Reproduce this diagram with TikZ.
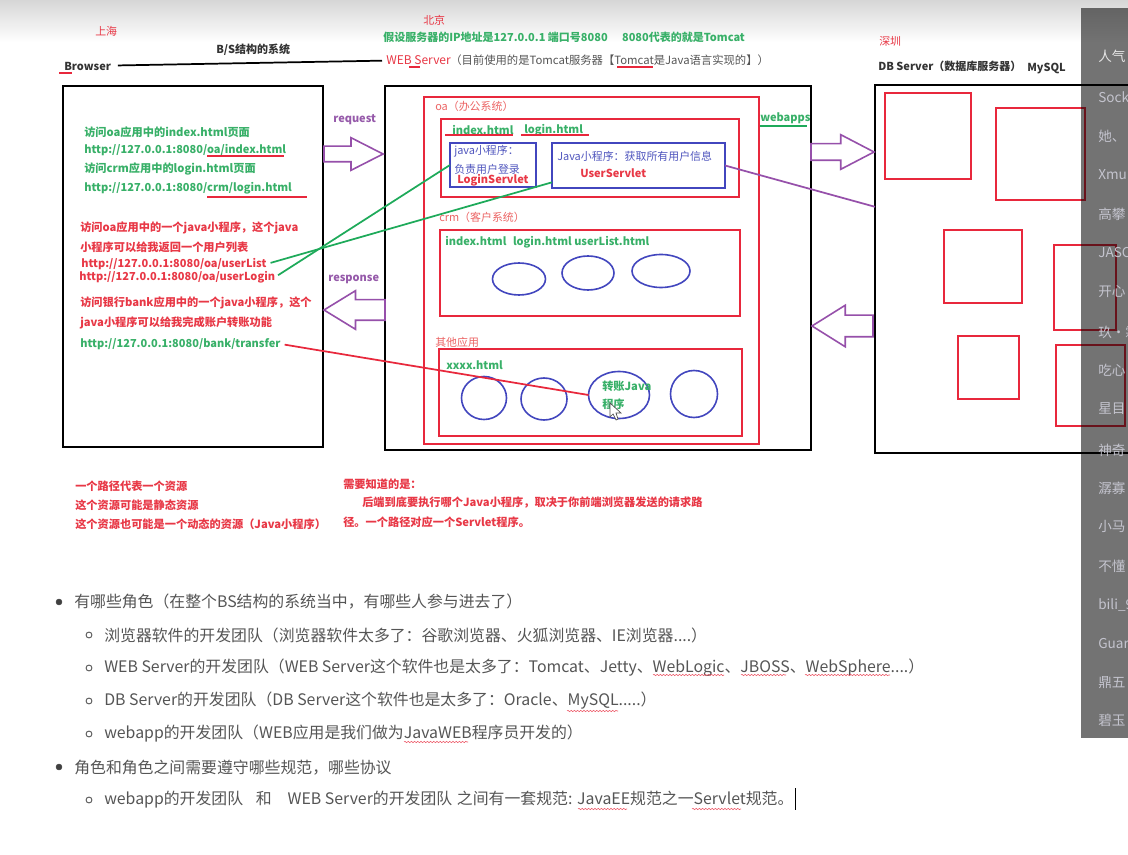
\documentclass[tikz,border=0pt]{standalone}
\usepackage{fontspec}
\setmainfont{Noto Sans CJK SC}
\usepackage{tikz}
\usetikzlibrary{shapes,arrows,calc,decorations.pathmorphing}
\definecolor{redline}{RGB}{232,40,60}
\definecolor{blueline}{RGB}{66,70,190}
\definecolor{purpleline}{RGB}{150,80,170}
\definecolor{greenline}{RGB}{30,170,90}
\definecolor{redtext}{RGB}{232,56,70}
\definecolor{softred}{RGB}{236,100,100}
\definecolor{greentext}{RGB}{56,176,104}
\definecolor{bluetext}{RGB}{80,86,190}
\definecolor{purpletext}{RGB}{150,90,170}
\definecolor{graytext}{RGB}{85,85,85}
\definecolor{sidetext}{RGB}{196,196,206}
\tikzset{dims/.style 2 args={minimum width=#1*.75pt, minimum height=#2*.75pt}}
\tikzset{bigarrow/.style n args={4}{draw=purpleline, line width=1.2pt, outer sep=0pt, shape=single arrow, minimum height=#1*.75pt, inner sep=#2*.375pt, single arrow head extend=(#3-#2)*.375pt, single arrow tip angle=#4}}
\tikzstyle{blackbox} = [draw=black, line width=1.3pt, rectangle, anchor=north west, inner sep=0pt, outer sep=0pt]
\tikzstyle{redbox} = [draw=redline, line width=1.3pt, rectangle, anchor=north west, inner sep=0pt, outer sep=0pt]
\tikzstyle{bluebox} = [draw=blueline, line width=1.3pt, rectangle, anchor=north west, inner sep=0pt, outer sep=0pt]
\tikzstyle{blueoval} = [draw=blueline, line width=1.2pt, ellipse, inner sep=0pt, outer sep=0pt]
\tikzstyle{textline} = [anchor=west, inner sep=0pt]
\tikzstyle{boldtext} = [textline, font=\fontsize{8.4}{10}\selectfont\bfseries]
\tikzstyle{urltext} = [textline, font=\fontsize{8.25}{10}\selectfont\bfseries]
\tikzstyle{greenlabel} = [boldtext, text=greentext]
\tikzstyle{redlabel} = [boldtext, text=redtext]
\tikzstyle{greenurl} = [urltext, text=greentext]
\tikzstyle{redurl} = [urltext, text=redtext]
\tikzstyle{darklabel} = [urltext, text=black!80]
\tikzstyle{thinred} = [textline, text=softred, font=\fontsize{8.2}{10}\selectfont]
\tikzstyle{thinblue} = [textline, text=bluetext, font=\fontsize{8.2}{10}\selectfont]
\tikzstyle{docline} = [textline, text=graytext, font=\fontsize{11.9}{14}\selectfont]
\tikzstyle{sideline} = [textline, text=sidetext, font=\fontsize{10.2}{12}\selectfont]
\tikzstyle{link} = [draw, line width=1.3pt]
\tikzstyle{under} = [draw=redline, line width=1.3pt]
\tikzstyle{squiggle} = [draw=redline!80, line width=.4pt, decorate, decoration={snake, amplitude=.5pt, segment length=2.4pt}]
\tikzstyle{bulletdot} = [draw=black!75, fill=black!75, circle, inner sep=0pt, minimum size=4.4pt]
\tikzstyle{bulletring} = [draw=black!65, line width=.7pt, circle, inner sep=0pt, minimum size=4.4pt]
\begin{document}
\begin{tikzpicture}[x=.75pt, y=-.75pt]
        \useasboundingbox (0,0) rectangle (1128,855);
        \fill[white] (0,0) rectangle (1128,855);
        \shade[top color=black!16, bottom color=white] (0,0) rectangle (1128,42);
        % three servers
        \node[blackbox, dims={260}{361}] (browser) at (63,86) {};
        \node[blackbox, dims={426}{364}] (web) at (385,86) {};
        \node[blackbox, dims={255}{368}] (db) at (875,85) {};
        % titles
        \node[thinred, text=redtext] (shanghai) at (95,31) {上海};
        \node[darklabel] (bstitle) at (216,50) {B/S结构的系统};
        \node[darklabel] (browsertitle) at (64,66) {Browser};
        \node[thinred, text=redtext] (beijing) at (423,20) {北京};
        \node[greenurl] (assume) at (383,37) {假设服务器的IP地址是127.0.0.1 端口号8080\hspace{1.3em}8080代表的就是Tomcat};
        \node[thinred, text=redtext, font=\fontsize{9}{11}\selectfont] (webtitle) at (386,60) {WEB Server};
        \node[textline, text=graytext, font=\fontsize{8.5}{11}\selectfont] (webnote) at (450,60) {（目前使用的是Tomcat服务器【Tomcat是Java语言实现的】）};
        \node[thinred, text=redtext] (shenzhen) at (879,41) {深圳};
        \node[darklabel] (dbtitle) at (878,66) {DB Server（数据库服务器）};
        \node[darklabel] (mysql) at (1027,69) {MySQL};
        \path[link, shorten <=5pt, shorten >=3pt] (browsertitle) -- (webtitle);
        % browser text
        \node[greenlabel] (askindex) at (84,132) {访问oa应用中的index.html页面};
        \node[greenurl] (urlindex) at (84,150) {http://127.0.0.1:8080/oa/index.html};
        \node[greenlabel] (asklogin) at (84,169) {访问crm应用中的login.html页面};
        \node[greenurl] (urllogin) at (84,188) {http://127.0.0.1:8080/crm/login.html};
        \node[redlabel] (askjava) at (80,228) {访问oa应用中的一个java小程序，这个java};
        \node[redlabel] (askjavb) at (80,247) {小程序可以给我返回一个用户列表};
        \node[redurl] (urluser) at (81,264) {http://127.0.0.1:8080/oa/userList};
        \node[redurl] (urlcheck) at (79,277) {http://127.0.0.1:8080/oa/userLogin};
        \node[redlabel] (askbank) at (80,303) {访问银行bank应用中的一个java小程序，这个};
        \node[redlabel] (askbanb) at (80,323) {java小程序可以给我完成账户转账功能};
        \node[greenurl] (urlbank) at (80,344) {http://127.0.0.1:8080/bank/transfer};
        \path[under] (207,156) -- (284,156);
        \path[under] (207,197) -- (307,197);
        \path[under] (59,73) -- (72,73);
        \path[under] (409,67) -- (420,67);
        \path[under] (617,67) -- (653,67);
        % request and response
        \node[urltext, text=purpletext] (request) at (333,120) {request};
        \node[urltext, text=purpletext] (response) at (328,279) {response};
        \node[bigarrow={59}{14}{31}{54}, anchor=tail] (reqarrow) at (324,154) {};
        \node[bigarrow={61}{19}{37}{63}, shape border rotate=180, anchor=tail] (resarrow) at (385,310) {};
        \node[bigarrow={63}{15}{33}{55}, anchor=tail] (dbreq) at (811,152) {};
        \node[bigarrow={61}{20}{40}{64}, shape border rotate=180, anchor=tail] (dbres) at (873,326) {};
        % oa
        \node[redbox, dims={335}{347}] (apps) at (424,97) {};
        \node[thinred] (oatitle) at (435,106) {oa（办公系统）};
        \node[redbox, dims={298}{78}] (oabox) at (441,119) {};
        \node[greenurl] (oaindex) at (452,130) {index.html};
        \node[greenurl] (oalogin) at (524,130) {login.html};
        \path[under] (445,135) -- (513,135);
        \path[under] (521,135) -- (589,135);
        \node[bluebox, dims={86}{44}] (loginjava) at (450,143) {};
        \node[thinblue] (loginhead) at (454,151) {java小程序：};
        \node[thinblue] (loginnote) at (454,169) {负责用户登录};
        \node[redurl] (loginname) at (457,180) {LoginServlet};
        \node[bluebox, dims={173}{45}] (userjava) at (552,143) {};
        \node[thinblue] (userhead) at (557,156) {Java小程序：获取所有用户信息};
        \node[redurl] (username) at (580,173) {UserServlet};
        \node[greenurl] (webapps) at (760,118) {webapps};
        \path[draw=greenline, line width=1.3pt] (760,126) -- (807,126);
        % crm
        \node[thinred] (crmtitle) at (439,217) {crm（客户系统）};
        \node[redbox, dims={300}{86}] (crmbox) at (440,230) {};
        \node[greenurl] (crmpages) at (445,242) {index.html\hspace{.6em}login.html userList.html};
        \node[blueoval, dims={53}{32}] (crma) at (519,279) {};
        \node[blueoval, dims={52}{34}] (crmb) at (588,273) {};
        \node[blueoval, dims={58}{33}] (crmc) at (661,271) {};
        % other apps
        \node[thinred] (othertitle) at (435,342) {其他应用};
        \node[redbox, dims={303}{87}] (otherbox) at (439,349) {};
        \node[greenurl] (xxxx) at (446,365) {xxxx.html};
        \node[blueoval, dims={45}{43}] (othera) at (484,398) {};
        \node[blueoval, dims={46}{42}] (otherb) at (544,399) {};
        \node[blueoval, dims={61}{47}] (transfer) at (619,395) {};
        \node[blueoval, dims={47}{47}] (otherd) at (694,394) {};
        \node[greenlabel] (transfera) at (602,386) {转账Java};
        \node[greenlabel] (transferb) at (602,404) {程序};
        % db tables
        \node[redbox, dims={86}{86}] (tablea) at (885,93) {};
        \node[redbox, dims={89}{92}] (tableb) at (996,108) {};
        \node[redbox, dims={78}{73}] (tablec) at (944,230) {};
        \node[redbox, dims={62}{85}] (tabled) at (1054,245) {};
        \node[redbox, dims={61}{63}] (tablee) at (958,336) {};
        \node[redbox, dims={69}{81}] (tablef) at (1056,345) {};
        % links between text and programs
        \path[link, draw=greenline, shorten <=3pt] (urluser.east) -- (userjava.191);
        \path[link, draw=greenline, shorten <=2.5pt] (urlcheck.east) -- (loginjava.west);
        \path[link, draw=purpleline] (userjava.east) -- (db.154);
        \path[link, draw=redline, shorten <=3pt] (urlbank.east) -- (transfer.west);
        % mouse pointer
        \draw[fill=white, draw=black!70, line width=.5pt] (610,403) -- (610,417) -- (613,414) -- (616,420) -- (618,419) -- (616,413) -- (621,413) -- cycle;
        % notes
        \node[redlabel] (notea) at (75,486) {一个路径代表一个资源};
        \node[redlabel] (noteb) at (75,505) {这个资源可能是静态资源};
        \node[redlabel] (notec) at (75,524) {这个资源也可能是一个动态的资源（Java小程序）};
        \node[redlabel] (noted) at (343,484) {需要知道的是：};
        \node[redlabel] (notee) at (362,503) {后端到底要执行哪个Java小程序，取决于你前端浏览器发送的请求路};
        \node[redlabel] (notef) at (343,522) {径。一个路径对应一个Servlet程序。};
        % document text
        \node[bulletdot] (dota) at (59,602) {};
        \node[docline] (roles) at (74,601.5) {有哪些角色（在整个BS结构的系统当中，有哪些人参与进去了）};
        \node[bulletring] (ringa) at (89,635) {};
        \node[docline] (teama) at (104,635) {浏览器软件的开发团队（浏览器软件太多了：谷歌浏览器、火狐浏览器、IE浏览器....）};
        \node[bulletring] (ringb) at (89,668) {};
        \node[docline] (teamb) at (104,667.5) {WEB Server的开发团队（WEB Server这个软件也是太多了：Tomcat、Jetty、WebLogic、JBOSS、WebSphere....）};
        \node[bulletring] (ringc) at (89,701) {};
        \node[docline] (teamc) at (104,701) {DB Server的开发团队（DB Server这个软件也是太多了：Oracle、MySQL.....）};
        \node[bulletring] (ringd) at (89,734) {};
        \node[docline] (teamd) at (104,733.5) {webapp的开发团队（WEB应用是我们做为JavaWEB程序员开发的）};
        \node[bulletdot] (dotb) at (59,767) {};
        \node[docline] (rules) at (74,767.5) {角色和角色之间需要遵守哪些规范，哪些协议};
        \node[bulletring] (ringe) at (89,800) {};
        \node[docline] (teame) at (104,799.5) {webapp的开发团队\hspace{.8em}和\hspace{1em}WEB Server的开发团队\hspace{.3em}之间有一套规范: JavaEE规范之一Servlet规范。};
        \path[draw=black, line width=.6pt] (795,788) -- (795,810);
        \path[squiggle] (653,675) -- (724,675);
        \path[squiggle] (741,675) -- (786,675);
        \path[squiggle] (805,675) -- (890,675);
        \path[squiggle] (567,711) -- (618,711);
        \path[squiggle] (404,742) -- (468,742);
        \path[squiggle] (578,809) -- (627,809);
        \path[squiggle] (692,809) -- (741,809);
        % side panel
        \fill[black, opacity=.55] (1081,8) rectangle (1128,738);
        \begin{scope}
        \clip (1081,8) rectangle (1128,738);
        \node[sideline, text=white!90!black] (sidea) at (1098,56) {人气};
        \node[sideline] (sideb) at (1098,97) {Sock};
        \node[sideline] (sidec) at (1098,136) {她、};
        \node[sideline] (sided) at (1098,175) {Xmu};
        \node[sideline] (sidee) at (1098,214) {高攀};
        \node[sideline] (sidef) at (1098,253) {JASC};
        \node[sideline] (sideg) at (1098,292) {开心};
        \node[sideline] (sideh) at (1098,332) {玖·霖};
        \node[sideline] (sidei) at (1098,370) {吃心};
        \node[sideline] (sidej) at (1098,409) {星目};
        \node[sideline] (sidek) at (1098,450) {神奇};
        \node[sideline] (sidel) at (1098,488) {潺寡};
        \node[sideline] (sidem) at (1098,526) {小马};
        \node[sideline] (siden) at (1098,566) {不懂};
        \node[sideline] (sideo) at (1098,605) {bili\_9};
        \node[sideline] (sidep) at (1098,644) {Guar};
        \node[sideline] (sideq) at (1098,683) {鼎五};
        \node[sideline] (sider) at (1098,720) {碧玉};
        \end{scope}
    \end{tikzpicture}
\end{document}
